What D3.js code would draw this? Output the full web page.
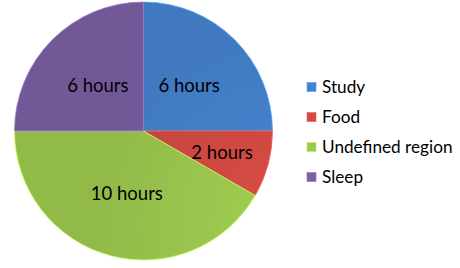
<!DOCTYPE html>
<html>
<head>
<meta charset="utf-8">
<script src="https://cdn.jsdelivr.net/npm/d3@7"></script>
<style>
  body { margin: 0; background: #fff; }
  svg text { font-family: Lato, "Open Sans", sans-serif; fill: #000; }
</style>
</head>
<body>
<svg width="460" height="268"></svg>
<script>
const categories = ['Study', 'Food', 'Undefined region', 'Sleep'];
const hours = [6, 2, 10, 6];
const sliceLabels = ['6 hours', '2 hours', '10 hours', '6 hours'];
const colors = ['#4582cd', '#d24a42', '#9cc84e', '#7b5ea3'];

const svg = d3.select('svg');
const cx = 143.5, cy = 131, radius = 129;

// gradients for the bevelled office look
const defs = svg.append('defs');
colors.forEach((c, i) => {
  const g = defs.append('radialGradient')
    .attr('id', 'grad' + i)
    .attr('gradientUnits', 'userSpaceOnUse')
    .attr('cx', cx).attr('cy', cy - radius * 0.3)
    .attr('r', radius * 1.5);
  g.append('stop').attr('offset', '0%').attr('stop-color', d3.color(c).brighter(0.1));
  g.append('stop').attr('offset', '100%').attr('stop-color', d3.color(c).darker(0.2));
});

const pie = d3.pie().sort(null).value(d => d.v);
const arcs = pie(hours.map((v, i) => ({ v: v, i: i })));

const arc = d3.arc().innerRadius(0).outerRadius(radius);

const g = svg.append('g').attr('transform', `translate(${cx},${cy})`);

g.selectAll('path')
  .data(arcs)
  .join('path')
  .attr('d', arc)
  .attr('fill', d => `url(#grad${d.data.i})`)
  .attr('stroke', d => d3.color(colors[d.data.i]).brighter(0.7))
  .attr('stroke-width', 0.8);

// labels: small slices get pushed outward
g.selectAll('text.lbl')
  .data(arcs)
  .join('text')
  .attr('class', 'lbl')
  .attr('transform', d => {
    const frac = (d.endAngle - d.startAngle) < 1 ? 0.63 : 0.5;
    const a = (d.startAngle + d.endAngle) / 2;
    return `translate(${Math.sin(a) * radius * frac},${-Math.cos(a) * radius * frac})`;
  })
  .attr('text-anchor', 'middle')
  .attr('dy', '0.35em')
  .style('font-size', '18.5px')
  .text(d => sliceLabels[d.data.i]);

// legend
const legendY = d3.scalePoint().domain(categories).range([87, 177]);
const legend = svg.append('g').selectAll('g')
  .data(categories)
  .join('g')
  .attr('transform', d => `translate(307,${legendY(d)})`);

legend.append('rect')
  .attr('x', 0).attr('y', -4.5)
  .attr('width', 9).attr('height', 9)
  .attr('fill', (d, i) => colors[i])
  .attr('stroke', (d, i) => d3.color(colors[i]).brighter(0.5))
  .attr('stroke-width', 0.6);

legend.append('text')
  .attr('x', 15)
  .attr('dy', '0.35em')
  .style('font-size', '17.2px')
  .text(d => d);
</script>
</body>
</html>
